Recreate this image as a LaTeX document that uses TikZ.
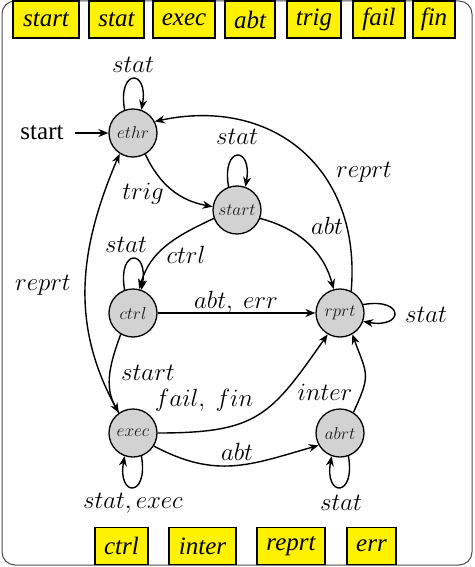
\documentclass[tikz,border=0pt]{standalone}
\usepackage{fontspec}
\setmainfont{Liberation Serif}
\newfontfamily\boxfont{Liberation Serif Italic}
\usetikzlibrary{arrows.meta}
\begin{document}
\begin{tikzpicture}[x=1pt,y=1pt,
  st/.style={circle, draw, line width=1.3pt, fill=gray!35, minimum size=48pt, inner sep=0pt,
    font=\fontsize{17.5}{19}\selectfont, text=black!90},
  lbl/.style={font=\fontsize{25}{29}\selectfont, inner sep=1pt},
  ybox/.style={draw, fill=yellow, line width=1.1pt, inner sep=0pt, minimum height=37pt,
    font=\fontsize{25}{28}\boxfont},
  arr/.style={-{Stealth[length=10pt,width=8pt]}, line width=1.4pt},
  lp/.style={-{Stealth[length=10pt,width=8pt]}, line width=1.4pt}
]
\useasboundingbox (0,0) rectangle (474,-567);
\draw[rounded corners=13pt, black!70, line width=1pt] (2,-1) rectangle (472,-565);

% top boxes
\node[ybox, minimum width=66pt] (b1) at (46,-19.5) {start};
\node[ybox, minimum width=55pt] (b2) at (116.5,-19.5) {stat};
\node[ybox, minimum width=62pt] (b3) at (184,-19.5) {exec};
\node[ybox, minimum width=50pt] (b4) at (250,-19.5) {abt};
\node[ybox, minimum width=54pt] (b5) at (314,-19.5) {trig};
\node[ybox, minimum width=52pt] (b6) at (379,-19.5) {fail};
\node[ybox, minimum width=42pt] (b7) at (434,-19.5) {fin};
% bottom boxes
\node[ybox, minimum width=53pt] (c1) at (121.5,-546) {ctrl};
\node[ybox, minimum width=67pt] (c2) at (202.5,-546) {inter};
\node[ybox, minimum width=68pt] (c3) at (291,-546) {reprt};
\node[ybox, minimum width=49pt] (c4) at (371.5,-546) {err};

% states
\node[st] (ethr) at (133,-133) {$ethr$};
\node[st] (start) at (237,-210) {$start$};
\node[st] (ctrl) at (133,-313) {$ctrl$};
\node[st] (rprt) at (340,-313) {$rprt$};
\node[st] (exec) at (133,-433) {$exec$};
\node[st] (abrt) at (340,-433) {$abrt$};

% labels
\node[lbl] (startlbl) at (42,-133) {start};
\node[lbl] (l1) at (133,-65) {$stat$};
\node[lbl] (l2) at (237,-137) {$stat$};
\node[lbl] (l3) at (126,-245) {$stat$};
\node[lbl] (l4) at (426,-315) {$stat$};
\node[lbl] (l5) at (341,-503) {$stat$};
\node[lbl] (l6) at (133,-503) {$stat, exec$};
\node[lbl] (l7) at (143,-194) {$trig$};
\node[lbl] (l8) at (186,-255) {$ctrl$};
\node[lbl] (l9) at (327,-226) {$abt$};
\node[lbl] (l10) at (364,-172) {$reprt$};
\node[lbl] (l11) at (236,-302) {$abt,\ err$};
\node[lbl] (l12) at (148,-373) {$start$};
\node[lbl] (l13) at (43,-285) {$reprt$};
\node[lbl] (l14) at (204,-400) {$fail,\ fin$};
\node[lbl] (l15) at (325,-392) {$inter$};
\node[lbl] (l16) at (237,-452) {$abt$};

% loops
\draw[lp] (ethr.110) .. controls +(100:42) and +(80:42) .. (ethr.70);
\draw[lp] (start.110) .. controls +(100:42) and +(80:42) .. (start.70);
\draw[lp] (ctrl.110) .. controls +(100:42) and +(80:42) .. (ctrl.70);
\draw[lp] (rprt.20) .. controls +(10:42) and +(-10:42) .. (rprt.-20);
\draw[lp] (abrt.-70) .. controls +(-80:42) and +(-100:42) .. (abrt.-110);
\draw[lp] (exec.-70) .. controls +(-80:42) and +(-100:42) .. (exec.-110);

% edges
\draw[arr, shorten <=10pt] (startlbl) -- (ethr);
\draw[arr] (ethr.-60) to[out=-65, in=170] (start.172);
\draw[arr] (start.200) to[out=205, in=75] (ctrl.75);
\draw[arr] (start.-20) to[out=-15, in=105] (rprt.105);
\draw[arr] (rprt.63) to[out=85, in=12, looseness=1.2] (ethr.28);
\draw[arr] (ctrl) -- (rprt);
\draw[arr] (ctrl.-120) to[out=-110, in=120] (exec.125);
\draw[arr] (exec.125) to[out=120, in=247] (ethr.237);
\draw[arr] (exec.0) to[out=0, in=235, looseness=1.3] (rprt.240);
\draw[arr] (exec.-32) to[out=-28, in=196, looseness=1.1] (abrt.210);
\draw[arr] (abrt.57) to[out=65, in=-70, looseness=1.4] (rprt.-60);
\end{tikzpicture}
\end{document}
